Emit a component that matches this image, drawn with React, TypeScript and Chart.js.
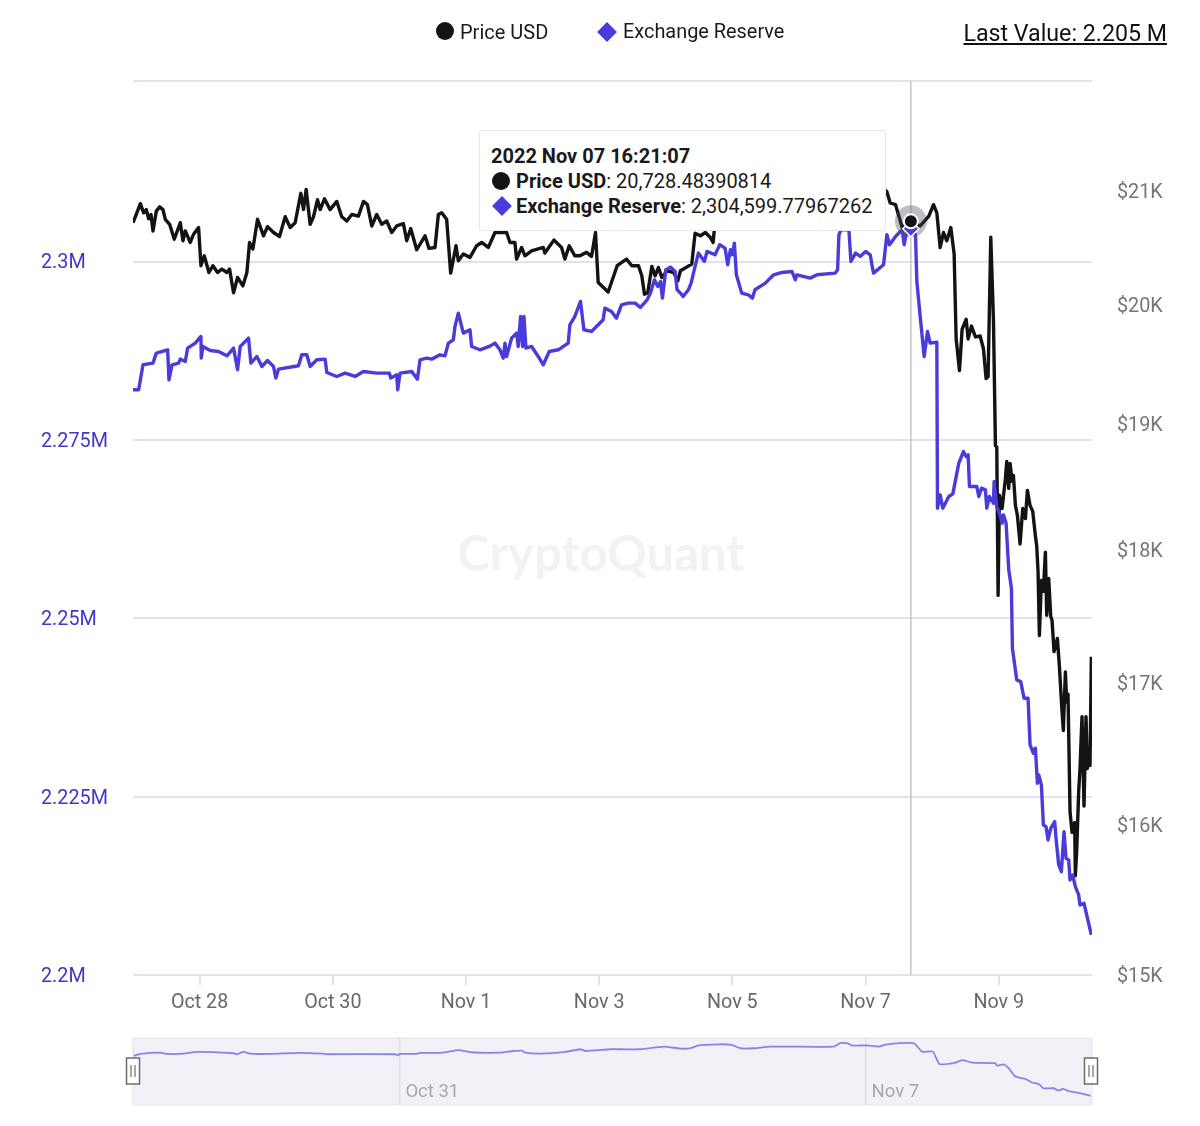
import { useEffect, useRef } from "react";
import { Chart, registerables } from "chart.js";

Chart.register(...registerables);

// x values are days since Oct 27 00:00
const priceDays = [
  0, 0.035, 0.11, 0.16, 0.2, 0.235, 0.27, 0.3, 0.35, 0.4,
  0.45, 0.485, 0.55, 0.62, 0.71, 0.75, 0.785, 0.86, 0.91, 0.985,
  1.02, 1.07, 1.14, 1.2, 1.27, 1.335, 1.41, 1.45, 1.51, 1.57,
  1.65, 1.71, 1.75, 1.8, 1.87, 1.96, 2.02, 2.11, 2.2, 2.285,
  2.36, 2.435, 2.52, 2.56, 2.6, 2.66, 2.71, 2.77, 2.81, 2.875,
  2.96, 3.06, 3.135, 3.21, 3.285, 3.385, 3.46, 3.52, 3.585, 3.66,
  3.735, 3.81, 3.885, 3.96, 4.06, 4.11, 4.17, 4.26, 4.385, 4.445,
  4.535, 4.585, 4.635, 4.71, 4.77, 4.85, 4.885, 4.96, 5.06, 5.16,
  5.235, 5.335, 5.435, 5.61, 5.66, 5.735, 5.76, 5.835, 5.885, 5.985,
  6.16, 6.185, 6.32, 6.435, 6.485, 6.55, 6.635, 6.71, 6.81, 6.885,
  6.945, 6.985, 7.135, 7.27, 7.41, 7.49, 7.59, 7.64, 7.68, 7.73,
  7.79, 7.84, 7.89, 7.94, 8.02, 8.12, 8.18, 8.22, 8.39, 8.44,
  8.52, 8.595, 8.67, 8.71, 8.73, 8.8, 9.0, 9.3, 9.6, 9.9,
  10.2, 10.5, 10.8, 11.0, 11.2, 11.32, 11.37, 11.45, 11.55, 11.68,
  11.82, 11.95, 12.02, 12.07, 12.12, 12.17, 12.22, 12.28, 12.33, 12.36,
  12.41, 12.45, 12.51, 12.54, 12.59, 12.65, 12.72, 12.77, 12.81, 12.84,
  12.88, 12.92, 12.95, 12.97, 12.99, 13.01, 13.05, 13.1, 13.12, 13.15,
  13.17, 13.2, 13.22, 13.25, 13.28, 13.32, 13.36, 13.4, 13.43, 13.47,
  13.51, 13.55, 13.57, 13.59, 13.61, 13.64, 13.67, 13.7, 13.72, 13.75,
  13.78, 13.8, 13.83, 13.88, 13.91, 13.95, 13.97, 14.0, 14.02, 14.04,
  14.07, 14.1, 14.14, 14.15, 14.17, 14.2, 14.22, 14.25, 14.28, 14.31,
  14.33, 14.35, 14.37, 14.39,
];
const priceValues = [
  20716, 20769, 20886, 20804, 20833, 20751, 20789, 20643, 20819, 20857,
  20833, 20746, 20702, 20570, 20716, 20556, 20643, 20541, 20614, 20673,
  20337, 20424, 20278, 20337, 20278, 20308, 20278, 20308, 20103, 20235,
  20162, 20278, 20541, 20483, 20746, 20600, 20681, 20629, 20594, 20769,
  20673, 20716, 20979, 20833, 21014, 20702, 20769, 20921, 20833, 20930,
  20833, 20906, 20769, 20731, 20789, 20775, 20906, 20877, 20687, 20789,
  20702, 20731, 20629, 20687, 20708, 20556, 20664, 20477, 20600, 20489,
  20497, 20789, 20804, 20746, 20273, 20512, 20381, 20439, 20410, 20512,
  20541, 20497, 20629, 20629, 20541, 20541, 20395, 20497, 20424, 20468,
  20497, 20448, 20562, 20497, 20395, 20512, 20424, 20424, 20454, 20419,
  20629, 20191, 20109, 20337, 20395, 20337, 20337, 20249, 20089, 20103,
  20331, 20249, 20322, 20235, 20293, 20278, 20205, 20293, 20351, 20623,
  20600, 20629, 20585, 20541, 20658, 20800, 20900, 20850, 20950, 20880,
  20920, 20850, 21000, 20950, 21050, 20994, 20892, 20877, 20673, 20728.48,
  20687, 20775, 20877, 20804, 20497, 20629, 20556, 20673, 20439, 19708,
  19442, 19792, 19875, 19708, 19817, 19725, 19733, 19625, 19375, 19392,
  20588, 19875, 18825, 18817, 17654, 18429, 18325, 18563, 18698, 18484,
  18682, 18540, 18587, 18349, 18270, 18048, 18325, 18246, 18468, 18349,
  18302, 18111, 18032, 17834, 17353, 17767, 17684, 17985, 17504, 17782,
  17497, 17466, 17233, 17331, 17128, 16794, 16660, 17083, 16865, 16922,
  16092, 15947, 16014, 15653, 15820, 16227, 16390, 16759, 16128, 16759,
  16390, 16461, 16411, 17195,
];

const reserveDays = [
  0, 0.085, 0.15, 0.3, 0.35, 0.52, 0.54, 0.585, 0.685, 0.71,
  0.785, 0.82, 0.935, 1.02, 1.025, 1.05, 1.16, 1.285, 1.41, 1.51,
  1.57, 1.61, 1.735, 1.77, 1.86, 1.935, 2.02, 2.11, 2.145, 2.185,
  2.485, 2.535, 2.61, 2.66, 2.76, 2.885, 2.91, 3.06, 3.185, 3.335,
  3.46, 3.66, 3.85, 3.87, 3.96, 3.975, 4.01, 4.185, 4.27, 4.31,
  4.41, 4.485, 4.61, 4.685, 4.735, 4.81, 4.835, 4.885, 4.96, 5.06,
  5.085, 5.21, 5.35, 5.435, 5.51, 5.56, 5.585, 5.61, 5.685, 5.76,
  5.785, 5.82, 5.85, 5.87, 5.9, 5.985, 6.085, 6.16, 6.25, 6.385,
  6.535, 6.56, 6.635, 6.72, 6.77, 6.885, 7.06, 7.085, 7.185, 7.26,
  7.335, 7.435, 7.54, 7.62, 7.72, 7.77, 7.83, 7.88, 7.92, 7.95,
  8.0, 8.07, 8.14, 8.17, 8.22, 8.26, 8.34, 8.38, 8.44, 8.49,
  8.58, 8.62, 8.74, 8.81, 8.89, 8.93, 8.97, 9.0, 9.03, 9.06,
  9.14, 9.24, 9.3, 9.34, 9.495, 9.62, 9.745, 9.895, 9.945, 9.97,
  10.17, 10.27, 10.545, 10.58, 10.6, 10.63, 10.75, 10.78, 10.85, 10.92,
  11.0, 11.07, 11.1, 11.12, 11.27, 11.32, 11.36, 11.45, 11.55, 11.58,
  11.62, 11.68, 11.75, 11.77, 11.82, 11.88, 11.93, 11.97, 12.07, 12.08,
  12.12, 12.16, 12.25, 12.31, 12.4, 12.47, 12.51, 12.54, 12.56, 12.67,
  12.7, 12.74, 12.8, 12.82, 12.86, 12.92, 12.93, 12.97, 13.01, 13.05,
  13.07, 13.11, 13.15, 13.19, 13.205, 13.27, 13.33, 13.38, 13.44, 13.47,
  13.52, 13.55, 13.58, 13.6, 13.64, 13.67, 13.71, 13.74, 13.78, 13.84,
  13.86, 13.9, 13.94, 13.98, 14.01, 14.05, 14.07, 14.11, 14.15, 14.2,
  14.22, 14.28, 14.32, 14.39,
];
const reserveValues = [
  2282020, 2282020, 2285524, 2285758, 2287160, 2287627, 2283421, 2285524, 2285758, 2286318,
  2285991, 2287861, 2288562, 2289496, 2286458, 2288094, 2287533, 2287393, 2286786, 2287861,
  2284823, 2288094, 2289262, 2285758, 2286692, 2285290, 2286131, 2285290, 2283655, 2284917,
  2285384, 2286926, 2286926, 2285290, 2286225, 2286318, 2284449, 2283888, 2284356, 2283888,
  2284590, 2284356, 2284356, 2283655, 2284122, 2282020, 2284356, 2284590, 2283515, 2286225,
  2286458, 2286318, 2286926, 2286786, 2288562, 2289028, 2290899, 2292767, 2289963, 2290431,
  2288094, 2287627, 2288094, 2288562, 2287627, 2286458, 2288562, 2286692, 2289262, 2289963,
  2288094, 2292300, 2288094, 2292300, 2287861, 2288094, 2286692, 2285524, 2287393, 2287627,
  2288562, 2291132, 2292300, 2294403, 2290431, 2290198, 2291833, 2293468, 2293001, 2292067,
  2293935, 2294169, 2294169, 2293561, 2294636, 2295571, 2297440, 2296506, 2297207, 2294870,
  2298842, 2299216, 2298608, 2296039, 2295571, 2295104, 2296039, 2296973, 2299309, 2301179,
  2300011, 2301413, 2300945, 2302347, 2301880, 2299543, 2301646, 2300945, 2302581, 2298141,
  2295571, 2295337, 2294870, 2296039, 2296973, 2298141, 2298468, 2298608, 2297440, 2298141,
  2297674, 2298141, 2298375, 2298842, 2303749, 2304450, 2304450, 2300011, 2301179, 2300712,
  2301413, 2300945, 2299309, 2298375, 2299543, 2303749, 2302347, 2303515, 2304450, 2302347,
  2304450, 2304599.78, 2303749, 2297207, 2292300, 2286692, 2290198, 2288562, 2288701, 2265428,
  2267298, 2265429, 2267063, 2267438, 2271737, 2273372, 2272672, 2272906, 2268466, 2268466,
  2267063, 2268232, 2267998, 2265429, 2267063, 2266129, 2269167, 2265662, 2264727, 2263325,
  2264494, 2263325, 2256783, 2254213, 2245799, 2241359, 2241126, 2238789, 2238789, 2232247,
  2231079, 2231780, 2226873, 2228041, 2226639, 2221032, 2220798, 2218929, 2220564, 2221500,
  2219163, 2215424, 2214489, 2220097, 2216359, 2216125, 2213321, 2214022, 2212387, 2211218,
  2209817, 2210050, 2208415, 2205610,
];

// smoothed reserve line of the range navigator
const navDays = [
  0.01, 0.11, 0.41, 0.51, 0.76, 0.96, 1.51, 1.56, 1.66, 1.76,
  2.06, 2.51, 2.84, 2.91, 3.94, 3.97, 4.01, 4.26, 4.31, 4.66,
  4.89, 5.07, 5.52, 5.67, 5.84, 5.89, 6.12, 6.49, 6.72, 6.79,
  7.17, 7.32, 7.62, 7.97, 8.22, 8.37, 8.49, 8.79, 8.99, 9.12,
  9.32, 9.57, 10.52, 10.62, 10.72, 10.81, 11.02, 11.2, 11.32, 11.72,
  11.85, 12.01, 12.11, 12.32, 12.45, 12.6, 12.95, 12.97, 13.07, 13.15,
  13.25, 13.4, 13.5, 13.6, 13.67, 13.82, 13.9, 13.97, 14.05, 14.22,
  14.38,
];
const navReserve = [
  2281800, 2285600, 2288000, 2285600, 2286000, 2289400, 2286900, 2285000, 2289400, 2286000,
  2285600, 2287500, 2286000, 2285000, 2285000, 2283000, 2285600, 2285600, 2287500, 2288000,
  2293000, 2288800, 2288000, 2290700, 2291800, 2288000, 2286000, 2289400, 2294500, 2291200,
  2294500, 2294500, 2294500, 2299500, 2295700, 2296500, 2302000, 2304000, 2303000, 2296400,
  2296400, 2299500, 2299500, 2306000, 2306000, 2301400, 2302000, 2299500, 2304000, 2306000,
  2290000, 2290000, 2266500, 2267800, 2273600, 2269000, 2267800, 2263300, 2265500, 2258000,
  2242300, 2238000, 2231000, 2228000, 2220000, 2220000, 2215700, 2219000, 2214500, 2210700,
  2205600,
];

const xTickDays = [1, 3, 5, 7, 9, 11, 13];
const xTickLabels = ["Oct 28", "Oct 30", "Nov 1", "Nov 3", "Nov 5", "Nov 7", "Nov 9"];
const reserveTicks = [2200000, 2225000, 2250000, 2275000, 2300000];
const reserveTickLabels = ["2.2M", "2.225M", "2.25M", "2.275M", "2.3M"];
const priceTicks = [15000, 16000, 17000, 18000, 19000, 20000, 21000];
const navTickDays = [4, 11];
const navTickLabels = ["Oct 31", "Nov 7"];

const hoverDay = 11.68;
const hoverPrice = 20728.48;
const hoverReserve = 2304599.78;

const BLUE = "#4a3bdc";
const BLACK = "#131313";
const GRID = "#e2e2ec";
const FONT = "Roboto";

// chart.js has no time scale without an adapter, so days are plain numbers
const mainPlugin = {
  id: "mainExtras",
  beforeDatasetsDraw(chart: any) {
    const { ctx, chartArea } = chart;
    ctx.save();
    ctx.strokeStyle = GRID;
    ctx.lineWidth = 2;
    ctx.beginPath();
    ctx.moveTo(chartArea.left, chartArea.top);
    ctx.lineTo(chartArea.right, chartArea.top);
    ctx.stroke();
    ctx.fillStyle = "#f1f1f6";
    ctx.font = "bold 49px Lato";
    ctx.textAlign = "center";
    ctx.textBaseline = "middle";
    ctx.fillText("CryptoQuant", 601, 555);
    ctx.restore();
  },
  afterDatasetsDraw(chart: any) {
    const { ctx, chartArea, scales } = chart;
    const x = scales.x.getPixelForValue(hoverDay);
    const yPrice = scales.price.getPixelForValue(hoverPrice);
    const yReserve = scales.reserve.getPixelForValue(hoverReserve);
    ctx.save();
    ctx.strokeStyle = "#c6c6ca";
    ctx.lineWidth = 1.5;
    ctx.beginPath();
    ctx.moveTo(x, chartArea.top);
    ctx.lineTo(x, chartArea.bottom);
    ctx.stroke();
    ctx.fillStyle = "rgba(70,70,90,0.35)";
    ctx.beginPath();
    ctx.arc(x, yPrice, 16, 0, Math.PI * 2);
    ctx.fill();
    ctx.fillStyle = BLUE;
    ctx.strokeStyle = "#fff";
    ctx.lineWidth = 1.5;
    ctx.beginPath();
    ctx.moveTo(x, yReserve - 8);
    ctx.lineTo(x + 8, yReserve);
    ctx.lineTo(x, yReserve + 8);
    ctx.lineTo(x - 8, yReserve);
    ctx.closePath();
    ctx.fill();
    ctx.stroke();
    ctx.fillStyle = BLACK;
    ctx.lineWidth = 2;
    ctx.beginPath();
    ctx.arc(x, yPrice, 7, 0, Math.PI * 2);
    ctx.fill();
    ctx.stroke();
    ctx.restore();
  },
};

const navPlugin = {
  id: "navExtras",
  beforeDatasetsDraw(chart: any) {
    const { ctx, chartArea, scales } = chart;
    ctx.save();
    ctx.fillStyle = "#a8a8ac";
    ctx.font = `18.5px ${FONT}`;
    ctx.textBaseline = "middle";
    navTickDays.forEach((d, i) => {
      ctx.fillText(navTickLabels[i], scales.x.getPixelForValue(d) + 6, chartArea.bottom - 13);
    });
    ctx.restore();
  },
  afterDraw(chart: any) {
    const { ctx, chartArea } = chart;
    [chartArea.left, chartArea.right - 1].forEach((x: number) => {
      ctx.save();
      ctx.fillStyle = "#fff";
      ctx.strokeStyle = "#6c6c6c";
      ctx.lineWidth = 1.5;
      ctx.fillRect(x - 6.5, 28, 13, 26);
      ctx.strokeRect(x - 6.5, 28, 13, 26);
      ctx.strokeStyle = "#8a8a8a";
      ctx.beginPath();
      ctx.moveTo(x - 2, 35);
      ctx.lineTo(x - 2, 47);
      ctx.moveTo(x + 2, 35);
      ctx.lineTo(x + 2, 47);
      ctx.stroke();
      ctx.restore();
    });
  },
};

const navBackground = {
  id: "navBackground",
  beforeDraw(chart: any) {
    const { ctx, chartArea } = chart;
    ctx.save();
    ctx.fillStyle = "#f1f1f7";
    ctx.fillRect(chartArea.left, chartArea.top, chartArea.right - chartArea.left, chartArea.bottom - chartArea.top);
    ctx.strokeStyle = "#e4e4ec";
    ctx.strokeRect(chartArea.left, chartArea.top, chartArea.right - chartArea.left, chartArea.bottom - chartArea.top);
    ctx.restore();
  },
};

function pairs(xs: number[], ys: number[]) {
  return xs.map((x, i) => ({ x, y: ys[i] }));
}

export default function App() {
  const mainRef = useRef<HTMLCanvasElement>(null);
  const navRef = useRef<HTMLCanvasElement>(null);

  useEffect(() => {
    Chart.defaults.font.family = FONT;
    const main = new Chart(mainRef.current!.getContext("2d")!, {
      type: "line",
      data: {
        datasets: [
          {
            label: "Exchange Reserve",
            data: pairs(reserveDays, reserveValues),
            yAxisID: "reserve",
            borderColor: BLUE,
            borderWidth: 3.4,
            borderJoinStyle: "round",
            pointRadius: 0,
            tension: 0,
          },
          {
            label: "Price USD",
            data: pairs(priceDays, priceValues),
            yAxisID: "price",
            borderColor: BLACK,
            borderWidth: 3.4,
            borderJoinStyle: "round",
            pointRadius: 0,
            tension: 0,
          },
        ],
      },
      options: {
        responsive: false,
        animation: false,
        layout: { padding: { top: 81, left: 41, right: 0, bottom: 0 } },
        plugins: { legend: { display: false }, tooltip: { enabled: false } },
        scales: {
          x: {
            type: "linear",
            min: 0,
            max: 14.4,
            afterBuildTicks(scale: any) {
              scale.ticks = xTickDays.map((value) => ({ value }));
            },
            afterFit(scale: any) {
              scale.height = 55;
            },
            ticks: {
              autoSkip: false,
              maxRotation: 0,
              padding: 6,
              color: "#68686c",
              font: { size: 19.7 },
              callback: (v: any) => xTickLabels[xTickDays.indexOf(Number(v))],
            },
            grid: { drawOnChartArea: false, tickLength: 10, color: GRID, lineWidth: 2 },
            border: { display: false },
          },
          reserve: {
            type: "linear",
            position: "left",
            min: 2200000,
            max: 2325300,
            afterBuildTicks(scale: any) {
              scale.ticks = reserveTicks.map((value) => ({ value }));
            },
            afterFit(scale: any) {
              scale.width = 92;
            },
            ticks: {
              crossAlign: "far",
              labelOffset: 2,
              color: "#4436c8",
              font: { size: 19.8 },
              callback: (v: any) => reserveTickLabels[reserveTicks.indexOf(Number(v))],
            },
            grid: { color: GRID, lineWidth: 2, drawTicks: false },
            border: { display: false },
          },
          price: {
            type: "logarithmic",
            position: "right",
            min: 15000,
            max: 22015,
            afterBuildTicks(scale: any) {
              scale.ticks = priceTicks.map((value) => ({ value }));
            },
            afterFit(scale: any) {
              scale.width = 108;
            },
            ticks: {
              padding: 25,
              labelOffset: 2,
              color: "#75757a",
              font: { size: 19.8 },
              callback: (v: any) => `$${Number(v) / 1000}K`,
            },
            grid: { drawOnChartArea: false, drawTicks: false },
            border: { display: false },
          },
        },
      },
      plugins: [mainPlugin],
    } as any);

    const nav = new Chart(navRef.current!.getContext("2d")!, {
      type: "line",
      data: {
        datasets: [
          {
            data: pairs(navDays, navReserve),
            borderColor: "rgba(74,59,220,0.6)",
            borderWidth: 1.8,
            pointRadius: 0,
            tension: 0.2,
          },
        ],
      },
      options: {
        responsive: false,
        animation: false,
        layout: { padding: { top: 8, left: 133, right: 108, bottom: 21 } },
        plugins: { legend: { display: false }, tooltip: { enabled: false } },
        scales: {
          x: {
            type: "linear",
            min: 0,
            max: 14.4,
            afterBuildTicks(scale: any) {
              scale.ticks = navTickDays.map((value) => ({ value }));
            },
            ticks: { display: false },
            grid: { color: "#e0e0e8", lineWidth: 1.5, drawTicks: false },
            border: { display: false },
          },
          y: { display: false, min: 2188000, max: 2316000 },
        },
      },
      plugins: [navBackground, navPlugin],
    } as any);

    return () => {
      main.destroy();
      nav.destroy();
    };
  }, []);

  const text: React.CSSProperties = {
    position: "absolute",
    fontFamily: FONT,
    whiteSpace: "nowrap",
    color: "#1a1a1a",
  };

  return (
    <div style={{ position: "absolute", left: 0, top: 0, width: 1200, height: 1126, background: "#fff", overflow: "hidden" }}>
      <canvas ref={mainRef} width={1200} height={1030} style={{ position: "absolute", left: 0, top: 0 }} />
      <canvas ref={navRef} width={1200} height={96} style={{ position: "absolute", left: 0, top: 1030 }} />

      <div style={{ position: "absolute", left: 436, top: 22, width: 18, height: 18, borderRadius: 9, background: BLACK }} />
      <div style={{ ...text, left: 460, top: 20, fontSize: 20, lineHeight: "24px" }}>Price USD</div>
      <div style={{ position: "absolute", left: 600, top: 25, width: 14, height: 14, background: BLUE, transform: "rotate(45deg)" }} />
      <div style={{ ...text, left: 623, top: 20, fontSize: 19.9, lineHeight: "24px" }}>Exchange Reserve</div>
      <div style={{ ...text, right: 33, top: 18, fontSize: 23.2, lineHeight: "30px", textDecoration: "underline", color: "#111" }}>
        Last Value: 2.205 M
      </div>

      <div
        style={{
          position: "absolute",
          left: 479,
          top: 130,
          width: 407,
          height: 101,
          boxSizing: "border-box",
          background: "#fff",
          border: "1px solid #e6e6ec",
          borderRadius: 3,
        }}
      />
      <div style={{ ...text, left: 491, top: 144, fontSize: 20, lineHeight: "25px", fontWeight: 700 }}>2022 Nov 07 16:21:07</div>
      <div style={{ position: "absolute", left: 492, top: 172, width: 18, height: 18, borderRadius: 9, background: BLACK }} />
      <div style={{ ...text, left: 516, top: 169, fontSize: 20, lineHeight: "25px" }}>
        <b>Price USD</b>: 20,728.48390814
      </div>
      <div style={{ position: "absolute", left: 495, top: 199, width: 14, height: 14, background: BLUE, transform: "rotate(45deg)" }} />
      <div style={{ ...text, left: 516, top: 194, fontSize: 20, lineHeight: "25px" }}>
        <b>Exchange Reserve</b>: 2,304,599.77967262
      </div>
    </div>
  );
}
